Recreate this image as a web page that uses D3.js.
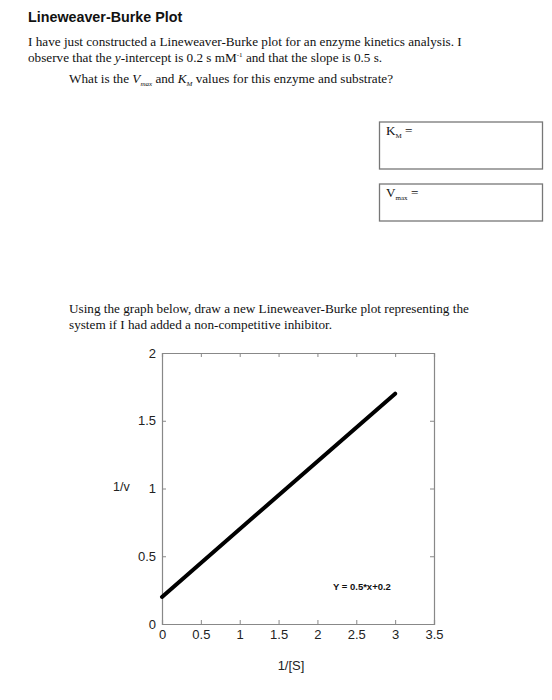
<!DOCTYPE html>
<html>
<head>
<meta charset="utf-8">
<script src="https://cdn.jsdelivr.net/npm/d3@7"></script>
<style>
  html, body { margin: 0; padding: 0; background: #fff; }
  .serif { font-family: "Liberation Serif", "Times New Roman", serif; fill: #111; }
  .sans { font-family: "Liberation Sans", Arial, sans-serif; }
  .axis path { stroke: #888; }
  .axis line { stroke: #888; }
  .axis text { font-family: "Liberation Sans", Arial, sans-serif; font-size: 13px; fill: #222; }
</style>
</head>
<body>
<svg id="page"></svg>
<script>
'use strict';

var x_ticks = [0, 0.5, 1, 1.5, 2, 2.5, 3, 3.5];
var y_ticks = [0, 0.5, 1, 1.5, 2];
var line_x = [0, 3];
var line_y = [0.2, 1.7];
var fit_label = 'Y = 0.5*x+0.2';

var width = 552, height = 700;
var svg = d3.select('#page').attr('width', width).attr('height', height);

// question text
svg.append('text').attr('class', 'sans').attr('x', 28).attr('y', 22)
  .style('font-size', '14.3px').style('font-weight', 'bold').style('fill', '#111')
  .text('Lineweaver-Burke Plot');

function rich(x, y, parts) {
  var t = svg.append('text').attr('class', 'serif').attr('x', x).attr('y', y).style('font-size', '13.2px');
  parts.forEach(function (p) {
    var s = t.append('tspan').text(p.t);
    if (p.i) s.style('font-style', 'italic');
    if (p.sub) s.attr('dy', 3).style('font-size', '7px');
    if (p.sup) s.attr('dy', -5).style('font-size', '7px');
    if (p.back) s.attr('dy', p.back);
  });
  return t;
}

rich(28, 46, [{t: 'I have just constructed a Lineweaver-Burke plot for an enzyme kinetics analysis.  I'}]);
rich(28, 62, [
  {t: 'observe that the '}, {t: 'y', i: true}, {t: '-intercept is 0.2 s mM'},
  {t: '-1', sup: true}, {t: ' and that the slope is 0.5 s.', back: 5}
]);
rich(69, 83, [
  {t: 'What is the '}, {t: 'V', i: true}, {t: 'max', i: true, sub: true},
  {t: ' and ', back: -3}, {t: 'K', i: true}, {t: 'M', i: true, sub: true},
  {t: ' values for this enzyme and substrate?', back: -3}
]);

// answer boxes
var boxes = [{y: 122, h: 47, main: 'K', sub: 'M'}, {y: 184, h: 37, main: 'V', sub: 'max'}];
boxes.forEach(function (b) {
  svg.append('rect').attr('x', 379.5).attr('y', b.y).attr('width', 163).attr('height', b.h)
    .attr('fill', 'none').attr('stroke', '#777').attr('stroke-width', 1.3);
  rich(386, b.y + 13, [{t: b.main}, {t: b.sub, sub: true}, {t: ' =', back: -3}]);
});

rich(69, 313, [{t: 'Using the graph below, draw a new Lineweaver-Burke plot representing the'}]);
rich(69, 329, [{t: 'system if I had added a non-competitive inhibitor.'}]);

// chart
var plot_left = 162, plot_top = 353, plot_w = 272, plot_h = 271;
var x = d3.scaleLinear().domain([0, 3.5]).range([0, plot_w]);
var y = d3.scaleLinear().domain([0, 2]).range([plot_h, 0]);

var g = svg.append('g').attr('transform', 'translate(' + plot_left + ',' + plot_top + ')');

g.append('g').attr('class', 'axis').attr('transform', 'translate(0,' + plot_h + ')')
  .call(d3.axisBottom(x).tickValues(x_ticks).tickSize(-4).tickPadding(6).tickFormat(d3.format('')));
g.append('g').attr('class', 'axis')
  .call(d3.axisTop(x).tickValues(x_ticks).tickSize(-4).tickFormat(''));
g.append('g').attr('class', 'axis')
  .call(d3.axisLeft(y).tickValues(y_ticks).tickSize(-4).tickPadding(6).tickFormat(d3.format('')));
g.append('g').attr('class', 'axis').attr('transform', 'translate(' + plot_w + ',0)')
  .call(d3.axisRight(y).tickValues(y_ticks).tickSize(-4).tickFormat(''));

g.selectAll('.axis .domain').attr('stroke-width', 1.2);

var pts = line_x.map(function (d, i) { return [d, line_y[i]]; });
g.append('path').datum(pts)
  .attr('fill', 'none').attr('stroke', '#000').attr('stroke-width', 4).attr('stroke-linecap', 'round')
  .attr('d', d3.line().x(function (d) { return x(d[0]); }).y(function (d) { return y(d[1]); }));

g.append('text').attr('class', 'sans').attr('x', x(2.2)).attr('y', y(0.25))
  .style('font-size', '9.5px').style('font-weight', 'bold').style('fill', '#111')
  .text(fit_label);

svg.append('text').attr('class', 'sans').attr('x', 113).attr('y', 491)
  .style('font-size', '12.5px').style('fill', '#222').text('1/v');
svg.append('text').attr('class', 'sans').attr('x', 291).attr('y', 670).attr('text-anchor', 'middle')
  .style('font-size', '13px').style('fill', '#222').text('1/[S]');
</script>
</body>
</html>
